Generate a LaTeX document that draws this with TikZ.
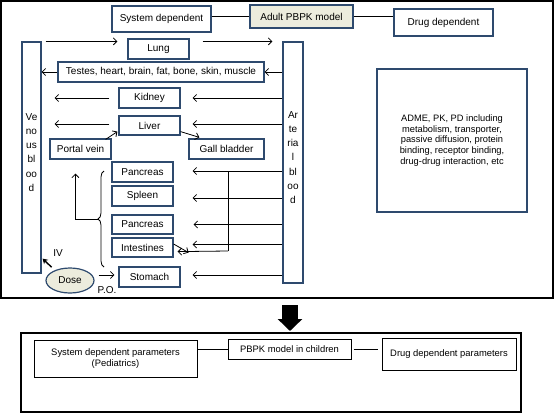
\documentclass[tikz,border=0pt]{standalone}
\usepackage{fontspec}
\setmainfont{Liberation Sans}
\usetikzlibrary{arrows.meta,shapes.geometric,decorations.pathreplacing,calc}
\definecolor{boxblue}{HTML}{2E4A6E}
\definecolor{beige}{HTML}{ECECDD}
\begin{document}
\begin{tikzpicture}[x=1pt,y=-1pt,
  box/.style={draw=boxblue, line width=1.2pt, inner sep=0pt, align=center, font=\fontsize{10}{12}\selectfont},
  bbox/.style={draw=black, line width=1pt, inner sep=0pt, align=center, font=\fontsize{9.4}{11.5}\selectfont},
  frame/.style={draw=black, line width=1.2pt, inner sep=0pt},
  lbl/.style={inner sep=0pt, align=center, font=\fontsize{10}{14.2}\selectfont},
  arr/.style={-{Straight Barb[length=3.5pt,width=7pt]}, line width=0.8pt},
  ln/.style={line width=0.8pt}]
\useasboundingbox (0,0) rectangle (555,413);
% frames
\node[frame, minimum width=552pt, minimum height=297pt] (frameA) at (277,149.5) {};
\node[frame, minimum width=500pt, minimum height=79pt] (frameB) at (271,372.5) {};
% top row
\node[box, minimum width=99pt, minimum height=26pt] (sys) at (161.5,19) {System dependent};
\node[box, fill=beige, minimum width=103pt, minimum height=23pt] (adult) at (301.5,16.5) {Adult PBPK model};
\node[box, minimum width=99pt, minimum height=27pt] (drug) at (443.5,22.5) {Drug dependent};
\draw[ln] (adult.west -| sys.east) -- (adult.west);
\draw[ln] (adult.east) -- (adult.east -| drug.west);
% blood columns
\node[box, minimum width=19pt, minimum height=231pt] (venous) at (31.5,157.5) {};
\node[lbl] (vtext) at (31.5,152.5) {Ve\\no\\us\\bl\\oo\\d};
\node[box, minimum width=20pt, minimum height=241pt] (arterial) at (293,162.5) {};
\node[lbl] (atext) at (293,157.5) {Ar\\te\\ria\\l\\bl\\oo\\d};
% organs
\node[box, minimum width=61pt, minimum height=20pt] (lung) at (158.5,49) {Lung};
\node[box, minimum width=206pt, minimum height=20pt] (testes) at (161,72) {Testes, heart, brain, fat, bone, skin, muscle};
\node[box, minimum width=61pt, minimum height=20pt] (kidney) at (149.5,98) {Kidney};
\node[box, minimum width=61pt, minimum height=19pt] (liver) at (149.5,125.5) {Liver};
\node[box, minimum width=61pt, minimum height=20pt] (portal) at (80.5,149) {Portal vein};
\node[box, minimum width=75pt, minimum height=20pt] (gall) at (226.5,149) {Gall bladder};
\node[box, minimum width=61pt, minimum height=20pt] (panc1) at (142.5,172) {Pancreas};
\node[box, minimum width=61pt, minimum height=20pt] (spleen) at (142.5,196) {Spleen};
\node[box, minimum width=61pt, minimum height=19pt] (panc2) at (142.5,224.5) {Pancreas};
\node[box, minimum width=61pt, minimum height=19pt] (intest) at (142.5,247.5) {Intestines};
\node[box, minimum width=61pt, minimum height=20pt] (stomach) at (149.5,277) {Stomach};
\node[ellipse, draw=boxblue, fill=beige, line width=1.2pt, inner sep=0pt, minimum width=48pt, minimum height=25pt, font=\fontsize{10}{12}\selectfont] (dose) at (70,280.5) {Dose};
\node[lbl] (iv) at (58,253) {IV};
\node[lbl] (po) at (107,290) {P.O.};
\node[box, minimum width=150pt, minimum height=143pt, font=\fontsize{9.3}{10.7}\selectfont] (adme) at (452,140.5) {ADME, PK, PD including\\metabolism, transporter,\\passive diffusion, protein\\binding, receptor binding,\\drug-drug interaction, etc};
% lung arrows
\draw[arr] ([xshift=4pt]venous.north east) -- ([xshift=-10pt]venous.north east -| lung.west);
\draw[arr] ([xshift=13pt]venous.north east -| lung.east) -- ([xshift=-10pt]arterial.north west);
% testes
\draw[arr] (testes.west) -- (testes.west -| venous.east);
\draw[arr] (testes.east -| arterial.west) -- (testes.east);
% kidney, liver
\draw[arr, shorten <=9pt, shorten >=13pt] (kidney.west) -- (kidney.west -| venous.east);
\draw[arr, shorten >=12pt] (kidney.east -| arterial.west) -- (kidney.east);
\draw[arr, shorten <=9pt, shorten >=13pt] ([yshift=1.5pt]liver.west) -- ([yshift=1.5pt]liver.west -| venous.east);
\draw[arr, shorten >=12pt] ([yshift=1.5pt]liver.east -| arterial.west) -- ([yshift=1.5pt]liver.east);
\draw[arr] ($(portal.north east)+(-6,1)$) -- ($(liver.south west)+(-1,-4)$);
\draw[arr] ($(liver.south east)+(0,-4)$) -- ($(gall.north west)+(11,-1)$);
% arterial to gut organs
\draw[arr, shorten >=19pt] ([yshift=1pt]panc1.east -| arterial.west) -- ([yshift=1pt]panc1.east);
\draw[arr, shorten >=19pt] ([yshift=-2pt]spleen.east -| arterial.west) -- ([yshift=-2pt]spleen.east);
\draw[arr, shorten >=20pt] (panc2.east -| arterial.west) -- (panc2.east);
\draw[arr, shorten >=19pt] ([yshift=3pt]intest.east -| arterial.west) -- ([yshift=3pt]intest.east);
\draw[arr, shorten >=12pt] ([yshift=2pt]stomach.east -| arterial.west) -- ([yshift=2pt]stomach.east);
% collecting line to intestines
\coordinate (jt) at (228,171);
\coordinate (jb) at (228,251);
\draw[ln] (jt) -- (jb);
\draw[arr] (jb) -- ($(intest.south east)+(4,-6)$);
\draw[arr] ($(intest.east)+(0,-3.5)$) -- ($(intest.south east)+(15,-5)$);
% brace to portal vein
\draw[ln, decorate, decoration={brace, amplitude=6pt}] (104,267) -- (104,171);
\coordinate (bt) at (98,219);
\draw[arr] (bt) -| ($(portal.south west)+(26,14)$);
% dose
\draw[-{Stealth[length=5pt,width=6pt]}, line width=1.4pt] ($(dose.north west)+(-1,-4)$) -- ($(venous.south east)+(1,-15)$);
\draw[arr] ($(dose.east)+(4,-5.5)$) -- ($(stomach.west)+(-4,-2)$);
% big arrow
\coordinate (bigA) at (290,305);
\coordinate (bigB) at (290,331);
\draw[-{Triangle[length=12pt,width=24pt]}, line width=16pt] (bigA) -- (bigB);
% children model
\node[bbox, minimum width=163pt, minimum height=37pt] (sysped) at (115.5,358.5) {System dependent parameters\\(Pediatrics)};
\node[bbox, minimum width=123pt, minimum height=20pt] (pbpkch) at (289.5,349) {PBPK model in children};
\node[bbox, minimum width=134pt, minimum height=32pt] (drugpar) at (449,354) {Drug dependent parameters};
\draw[ln] (pbpkch.west -| sysped.east) -- (pbpkch.west);
\draw[ln] ([xshift=2pt]pbpkch.east) -- ([xshift=-4pt]pbpkch.east -| drugpar.west);
\end{tikzpicture}
\end{document}
